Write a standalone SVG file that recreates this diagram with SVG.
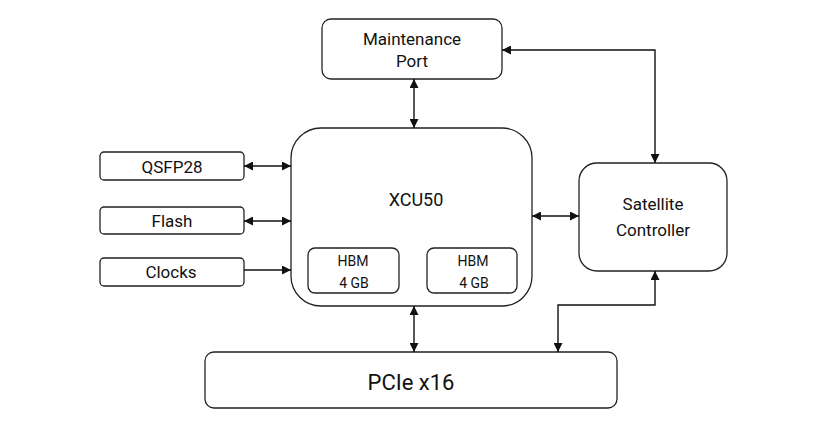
<svg xmlns="http://www.w3.org/2000/svg" width="833" height="434" viewBox="0 0 833 434">
<style>
.b{fill:#fff;stroke:#222;stroke-width:1.3}
.t{font-family:Roboto,"Liberation Sans",sans-serif;fill:#111;text-anchor:middle}
.c{fill:none;stroke:#111;stroke-width:1.4}
</style>
<defs>
<marker id="a" viewBox="0 0 10 10" refX="10" refY="5" markerWidth="9" markerHeight="9" markerUnits="userSpaceOnUse" orient="auto-start-reverse"><path d="M0,0L10,5L0,10z" fill="#111"/></marker>
</defs>
<rect width="833" height="434" fill="#fff"/>
<g id="mp"><rect class="b" x="322" y="19" width="180" height="60" rx="9"/><text class="t" x="412" y="45" font-size="17">Maintenance</text><text class="t" x="412" y="67" font-size="17">Port</text></g>
<g id="xcu"><rect class="b" x="291" y="128" width="241" height="178" rx="30"/><text class="t" x="416" y="206" font-size="18">XCU50</text></g>
<g id="hbm1"><rect class="b" x="308" y="248" width="91" height="45" rx="7"/><text class="t" x="353" y="266" font-size="14">HBM</text><text class="t" x="354" y="288" font-size="14">4 GB</text></g>
<g id="hbm2"><rect class="b" x="427" y="248" width="90" height="45" rx="7"/><text class="t" x="473" y="266" font-size="14">HBM</text><text class="t" x="474" y="288" font-size="14">4 GB</text></g>
<g id="qsfp"><rect class="b" x="100" y="152" width="144" height="28" rx="4"/><text class="t" x="172" y="173" font-size="17">QSFP28</text></g>
<g id="flash"><rect class="b" x="100" y="207" width="144" height="27" rx="4"/><text class="t" x="172" y="227" font-size="17">Flash</text></g>
<g id="clocks"><rect class="b" x="100" y="258" width="144" height="28" rx="4"/><text class="t" x="171" y="278" font-size="17">Clocks</text></g>
<g id="sat"><rect class="b" x="579" y="163" width="148" height="108" rx="18"/><text class="t" x="653" y="210" font-size="17">Satellite</text><text class="t" x="653" y="236" font-size="17">Controller</text></g>
<g id="pcie"><rect class="b" x="205" y="352" width="412" height="56" rx="9"/><text class="t" x="411" y="390" font-size="22">PCIe x16</text></g>
<g id="connectors">
<path class="c" d="M414,79V128" marker-start="url(#a)" marker-end="url(#a)"/>
<path class="c" d="M244,166H291" marker-start="url(#a)" marker-end="url(#a)"/>
<path class="c" d="M244,221H291" marker-start="url(#a)" marker-end="url(#a)"/>
<path class="c" d="M244,270H291" marker-end="url(#a)"/>
<path class="c" d="M532,216H579" marker-start="url(#a)" marker-end="url(#a)"/>
<path class="c" d="M502,50H655V163" marker-start="url(#a)" marker-end="url(#a)"/>
<path class="c" d="M655,271V305H558V352" marker-start="url(#a)" marker-end="url(#a)"/>
<path class="c" d="M414,306V352" marker-start="url(#a)" marker-end="url(#a)"/>
</g>
</svg>
